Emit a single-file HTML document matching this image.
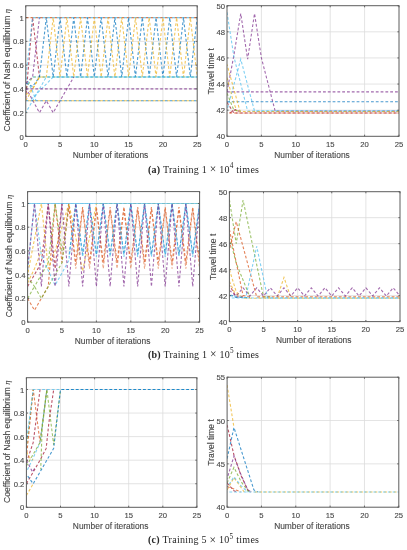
<!DOCTYPE html><html><head><meta charset="utf-8"><style>html,body{margin:0;padding:0;background:#fff;}svg{display:block;filter:blur(0.3px)}.t{font-family:"Liberation Sans",sans-serif;fill:#484848;stroke:#484848;stroke-width:0.12px;}.cap{font-family:"Liberation Serif",serif;fill:#262626;}</style></head><body>
<svg width="407" height="550" viewBox="0 0 407 550">
<rect width="407" height="550" fill="#fff"/>
<line x1="60.04" y1="5.75" x2="60.04" y2="136.40" stroke="#dcdcdc" stroke-width="0.8"/><line x1="94.33" y1="5.75" x2="94.33" y2="136.40" stroke="#dcdcdc" stroke-width="0.8"/><line x1="128.62" y1="5.75" x2="128.62" y2="136.40" stroke="#dcdcdc" stroke-width="0.8"/><line x1="162.91" y1="5.75" x2="162.91" y2="136.40" stroke="#dcdcdc" stroke-width="0.8"/><line x1="25.75" y1="112.65" x2="197.20" y2="112.65" stroke="#dcdcdc" stroke-width="0.8"/><line x1="25.75" y1="88.89" x2="197.20" y2="88.89" stroke="#dcdcdc" stroke-width="0.8"/><line x1="25.75" y1="65.14" x2="197.20" y2="65.14" stroke="#dcdcdc" stroke-width="0.8"/><line x1="25.75" y1="41.38" x2="197.20" y2="41.38" stroke="#dcdcdc" stroke-width="0.8"/><line x1="25.75" y1="17.63" x2="197.20" y2="17.63" stroke="#dcdcdc" stroke-width="0.8"/>
<clipPath id="clip0"><rect x="25.75" y="5.75" width="171.45" height="130.65"/></clipPath>
<g clip-path="url(#clip0)" fill="none" stroke-width="1.1" stroke-dasharray="2.8 2" stroke-opacity="0.72">
<polyline points="25.75,88.89 32.61,77.01 197.20,77.01" stroke="#77AC30"/>
<polyline points="32.61,77.01 197.20,77.01" stroke="#4DBEEE"/>
<polyline points="25.75,98.39 32.61,17.63 39.47,77.01" stroke="#A2142F"/>
<polyline points="25.75,82.95 32.61,77.01 39.47,17.63 42.89,17.63" stroke="#7E2F8E"/>
<polyline points="25.75,17.63 197.20,17.63" stroke="#D95319"/>
<polyline points="25.75,77.01 32.61,17.63 197.20,17.63" stroke="#4DBEEE" stroke-dashoffset="2.4"/>
<polyline points="25.75,82.95 32.61,86.52 39.47,77.01 46.32,17.63 53.18,77.01 60.04,17.63 66.90,77.01 73.76,17.63 80.61,77.01 87.47,17.63 94.33,77.01 101.19,17.63 108.05,77.01 114.90,17.63 121.76,77.01 128.62,17.63 135.48,77.01 142.34,17.63 149.19,77.01 156.05,17.63 162.91,77.01 169.77,17.63 176.63,77.01 183.48,17.63 190.34,77.01 197.20,17.63" stroke="#0072BD"/>
<polyline points="25.75,100.77 39.47,77.01 46.32,77.01 53.18,17.63 60.04,77.01 66.90,17.63 73.76,77.01 80.61,17.63 87.47,77.01 94.33,17.63 101.19,77.01 108.05,17.63 114.90,77.01 121.76,17.63 128.62,77.01 135.48,17.63 142.34,77.01 149.19,17.63 156.05,77.01 162.91,17.63 169.77,77.01 176.63,17.63 183.48,77.01 190.34,17.63 197.20,77.01" stroke="#EDB120"/>
<polyline points="25.75,112.65 46.32,77.01 197.20,77.01" stroke="#4DBEEE" stroke-dashoffset="1.3"/>
<polyline points="29.86,100.77 53.18,77.01 197.20,77.01" stroke="#4DBEEE" stroke-dashoffset="3.0"/>
<polyline points="25.75,77.01 32.61,91.27 36.04,100.77" stroke="#4DBEEE"/>
<polyline points="25.75,94.83 32.61,88.89 39.47,77.01" stroke="#EDB120"/>
<polyline points="25.75,88.89 197.20,88.89" stroke="#7E2F8E"/>
<polyline points="25.75,87.70 39.47,112.65 46.32,100.77 53.18,112.65 73.76,77.01" stroke="#7E2F8E"/>
<polyline points="25.75,100.77 197.20,100.77" stroke="#0072BD"/>
<polyline points="25.75,100.77 197.20,100.77" stroke="#EDB120" stroke-dashoffset="2.5"/>
</g>
<path d="M25.75,136.40v-1.6M25.75,5.75v1.6M60.04,136.40v-1.6M60.04,5.75v1.6M94.33,136.40v-1.6M94.33,5.75v1.6M128.62,136.40v-1.6M128.62,5.75v1.6M162.91,136.40v-1.6M162.91,5.75v1.6M197.20,136.40v-1.6M197.20,5.75v1.6M25.75,136.40h1.6M197.20,136.40h-1.6M25.75,112.65h1.6M197.20,112.65h-1.6M25.75,88.89h1.6M197.20,88.89h-1.6M25.75,65.14h1.6M197.20,65.14h-1.6M25.75,41.38h1.6M197.20,41.38h-1.6M25.75,17.63h1.6M197.20,17.63h-1.6" stroke="#444" stroke-width="0.8" fill="none"/>
<rect x="25.75" y="5.75" width="171.45" height="130.65" fill="none" stroke="#5c5c5c" stroke-width="1.0"/>
<text class="t" x="25.75" y="147.00" font-size="7.7" text-anchor="middle">0</text><text class="t" x="60.04" y="147.00" font-size="7.7" text-anchor="middle">5</text><text class="t" x="94.33" y="147.00" font-size="7.7" text-anchor="middle">10</text><text class="t" x="128.62" y="147.00" font-size="7.7" text-anchor="middle">15</text><text class="t" x="162.91" y="147.00" font-size="7.7" text-anchor="middle">20</text><text class="t" x="197.20" y="147.00" font-size="7.7" text-anchor="middle">25</text><text class="t" x="23.75" y="139.50" font-size="7.7" text-anchor="end">0</text><text class="t" x="23.75" y="115.75" font-size="7.7" text-anchor="end">0.2</text><text class="t" x="23.75" y="91.99" font-size="7.7" text-anchor="end">0.4</text><text class="t" x="23.75" y="68.24" font-size="7.7" text-anchor="end">0.6</text><text class="t" x="23.75" y="44.48" font-size="7.7" text-anchor="end">0.8</text><text class="t" x="23.75" y="20.73" font-size="7.7" text-anchor="end">1</text><text class="t" x="110.47" y="158.00" font-size="8.4" text-anchor="middle" textLength="75.6" lengthAdjust="spacingAndGlyphs">Number of iterations</text><text class="t" transform="translate(9.75,70.28) rotate(-90)" font-size="8.4" text-anchor="middle" textLength="122.5" lengthAdjust="spacingAndGlyphs">Coefficient of Nash equilibrium <tspan font-family="Liberation Serif, serif" font-style="italic">η</tspan></text>
<line x1="261.40" y1="5.70" x2="261.40" y2="136.30" stroke="#dcdcdc" stroke-width="0.8"/><line x1="295.80" y1="5.70" x2="295.80" y2="136.30" stroke="#dcdcdc" stroke-width="0.8"/><line x1="330.20" y1="5.70" x2="330.20" y2="136.30" stroke="#dcdcdc" stroke-width="0.8"/><line x1="364.60" y1="5.70" x2="364.60" y2="136.30" stroke="#dcdcdc" stroke-width="0.8"/><line x1="227.00" y1="110.18" x2="399.00" y2="110.18" stroke="#dcdcdc" stroke-width="0.8"/><line x1="227.00" y1="84.06" x2="399.00" y2="84.06" stroke="#dcdcdc" stroke-width="0.8"/><line x1="227.00" y1="57.94" x2="399.00" y2="57.94" stroke="#dcdcdc" stroke-width="0.8"/><line x1="227.00" y1="31.82" x2="399.00" y2="31.82" stroke="#dcdcdc" stroke-width="0.8"/>
<clipPath id="clip1"><rect x="227.0" y="5.7" width="172.0" height="130.60000000000002"/></clipPath>
<g clip-path="url(#clip1)" fill="none" stroke-width="1.1" stroke-dasharray="2.8 2" stroke-opacity="0.72">
<polyline points="227.00,91.90 399.00,91.90" stroke="#7E2F8E"/>
<polyline points="227.00,91.90 233.88,55.33 240.76,13.54 247.64,59.25 254.52,13.54 261.40,57.94 275.16,111.09 399.00,111.09" stroke="#7E2F8E"/>
<polyline points="227.00,12.23 233.88,56.63 247.64,111.09 399.00,111.09" stroke="#4DBEEE"/>
<polyline points="227.00,110.18 240.76,59.25 254.52,111.09 399.00,111.09" stroke="#4DBEEE" stroke-dashoffset="2.4"/>
<polyline points="227.00,101.69 399.00,101.69" stroke="#0072BD"/>
<polyline points="227.00,64.47 240.07,111.49 399.00,111.49" stroke="#EDB120" stroke-dashoffset="1.2"/>
<polyline points="227.00,77.53 233.88,103.65 237.32,111.49" stroke="#EDB120"/>
<polyline points="227.00,93.20 233.88,110.18 240.76,111.09" stroke="#77AC30"/>
<polyline points="227.00,102.34 233.88,113.05 399.00,113.05" stroke="#A2142F"/>
<polyline points="229.75,113.05 235.26,109.53 239.38,111.49" stroke="#A2142F"/>
<polyline points="227.00,113.05 399.00,113.05" stroke="#D95319" stroke-dashoffset="2.5"/>
</g>
<path d="M227.00,136.30v-1.6M227.00,5.70v1.6M261.40,136.30v-1.6M261.40,5.70v1.6M295.80,136.30v-1.6M295.80,5.70v1.6M330.20,136.30v-1.6M330.20,5.70v1.6M364.60,136.30v-1.6M364.60,5.70v1.6M399.00,136.30v-1.6M399.00,5.70v1.6M227.00,136.30h1.6M399.00,136.30h-1.6M227.00,110.18h1.6M399.00,110.18h-1.6M227.00,84.06h1.6M399.00,84.06h-1.6M227.00,57.94h1.6M399.00,57.94h-1.6M227.00,31.82h1.6M399.00,31.82h-1.6M227.00,5.70h1.6M399.00,5.70h-1.6" stroke="#444" stroke-width="0.8" fill="none"/>
<rect x="227.00" y="5.70" width="172.00" height="130.60" fill="none" stroke="#5c5c5c" stroke-width="1.0"/>
<text class="t" x="227.00" y="146.90" font-size="7.7" text-anchor="middle">0</text><text class="t" x="261.40" y="146.90" font-size="7.7" text-anchor="middle">5</text><text class="t" x="295.80" y="146.90" font-size="7.7" text-anchor="middle">10</text><text class="t" x="330.20" y="146.90" font-size="7.7" text-anchor="middle">15</text><text class="t" x="364.60" y="146.90" font-size="7.7" text-anchor="middle">20</text><text class="t" x="399.00" y="146.90" font-size="7.7" text-anchor="middle">25</text><text class="t" x="225.00" y="139.40" font-size="7.7" text-anchor="end">40</text><text class="t" x="225.00" y="113.28" font-size="7.7" text-anchor="end">42</text><text class="t" x="225.00" y="87.16" font-size="7.7" text-anchor="end">44</text><text class="t" x="225.00" y="61.04" font-size="7.7" text-anchor="end">46</text><text class="t" x="225.00" y="34.92" font-size="7.7" text-anchor="end">48</text><text class="t" x="225.00" y="8.80" font-size="7.7" text-anchor="end">50</text><text class="t" x="312.00" y="157.90" font-size="8.4" text-anchor="middle" textLength="75.6" lengthAdjust="spacingAndGlyphs">Number of iterations</text><text class="t" transform="translate(213.60,71.30) rotate(-90)" font-size="8.4" text-anchor="middle" textLength="46.5" lengthAdjust="spacingAndGlyphs">Travel time t</text>
<line x1="62.00" y1="191.60" x2="62.00" y2="322.10" stroke="#dcdcdc" stroke-width="0.8"/><line x1="96.40" y1="191.60" x2="96.40" y2="322.10" stroke="#dcdcdc" stroke-width="0.8"/><line x1="130.80" y1="191.60" x2="130.80" y2="322.10" stroke="#dcdcdc" stroke-width="0.8"/><line x1="165.20" y1="191.60" x2="165.20" y2="322.10" stroke="#dcdcdc" stroke-width="0.8"/><line x1="27.60" y1="298.37" x2="199.60" y2="298.37" stroke="#dcdcdc" stroke-width="0.8"/><line x1="27.60" y1="274.65" x2="199.60" y2="274.65" stroke="#dcdcdc" stroke-width="0.8"/><line x1="27.60" y1="250.92" x2="199.60" y2="250.92" stroke="#dcdcdc" stroke-width="0.8"/><line x1="27.60" y1="227.19" x2="199.60" y2="227.19" stroke="#dcdcdc" stroke-width="0.8"/><line x1="27.60" y1="203.46" x2="199.60" y2="203.46" stroke="#dcdcdc" stroke-width="0.8"/>
<clipPath id="clip2"><rect x="27.6" y="191.6" width="172.0" height="130.50000000000003"/></clipPath>
<g clip-path="url(#clip2)" fill="none" stroke-width="1.1" stroke-dasharray="2.8 2" stroke-opacity="0.72">
<polyline points="27.60,298.37 34.48,310.24 48.24,286.51 55.12,203.46 62.00,262.78 68.88,207.02 75.76,262.78 82.64,207.02 89.52,262.78 96.40,207.02 103.28,262.78 110.16,207.02 117.04,262.78 123.92,207.02 130.80,262.78 137.68,207.02 144.56,262.78 151.44,207.02 158.32,262.78 165.20,207.02 172.08,262.78 178.96,207.02 185.84,262.78 192.72,207.02 199.60,262.78" stroke="#D95319"/>
<polyline points="27.60,286.51 41.36,262.78 48.24,203.46 55.12,268.71 62.00,203.46" stroke="#A2142F"/>
<polyline points="27.60,298.37 34.48,286.51 41.36,298.37 48.24,286.51 62.00,262.78 68.88,203.46" stroke="#77AC30"/>
<polyline points="27.60,277.02 34.48,286.51 48.24,262.78 55.12,203.46 62.00,250.92" stroke="#77AC30"/>
<polyline points="27.60,274.65 41.36,203.46 48.24,268.71 55.12,250.92 68.88,203.46 82.64,271.09 96.40,203.46 199.60,203.46" stroke="#EDB120" stroke-dashoffset="2.4"/>
<polyline points="27.60,282.95 34.48,268.71 41.36,250.92" stroke="#EDB120"/>
<polyline points="68.88,256.85 75.76,203.46 82.64,254.48 89.52,203.46 96.40,254.48 103.28,203.46 110.16,254.48 117.04,203.46 123.92,254.48 130.80,203.46 137.68,254.48 144.56,203.46 151.44,254.48 158.32,203.46 165.20,254.48 172.08,203.46 178.96,254.48 185.84,203.46 192.72,254.48 199.60,203.46" stroke="#0072BD" stroke-dashoffset="2.4"/>
<polyline points="62.00,250.92 68.88,203.46 75.76,268.71 82.64,209.40 89.52,268.71 96.40,209.40 103.28,268.71 110.16,209.40 117.04,268.71 123.92,209.40 130.80,268.71 137.68,209.40 144.56,268.71 151.44,209.40 158.32,268.71 165.20,209.40 172.08,268.71 178.96,209.40 185.84,268.71 192.72,209.40 199.60,268.71" stroke="#D95319" stroke-dashoffset="2.4" stroke-opacity="0.5"/>
<polyline points="27.60,269.90 34.48,203.46 41.36,255.66 55.12,285.32 68.88,260.41 75.76,203.46 82.64,256.85 89.52,203.46 96.40,256.85 103.28,203.46 110.16,256.85 117.04,203.46 123.92,256.85 130.80,203.46 137.68,256.85 144.56,203.46 151.44,256.85 158.32,203.46 165.20,256.85 172.08,203.46 178.96,256.85 185.84,203.46 192.72,256.85 199.60,203.46" stroke="#4DBEEE"/>
<polyline points="27.60,268.71 34.48,203.46 41.36,286.51 48.24,203.46 55.12,286.51 62.00,203.46 68.88,286.51 75.76,203.46 82.64,286.51 89.52,203.46 96.40,286.51 103.28,203.46 110.16,286.51 117.04,203.46 123.92,286.51 130.80,203.46 137.68,286.51 144.56,203.46 151.44,286.51 158.32,203.46 165.20,286.51 172.08,203.46 178.96,286.51 185.84,203.46 192.72,286.51 199.60,203.46" stroke="#7E2F8E"/>
<polyline points="27.60,203.46 199.60,203.46" stroke="#4DBEEE"/>
<polyline points="27.60,203.46 199.60,203.46" stroke="#4DBEEE" stroke-dashoffset="2.4" stroke-opacity="0.6"/>
</g>
<path d="M27.60,322.10v-1.6M27.60,191.60v1.6M62.00,322.10v-1.6M62.00,191.60v1.6M96.40,322.10v-1.6M96.40,191.60v1.6M130.80,322.10v-1.6M130.80,191.60v1.6M165.20,322.10v-1.6M165.20,191.60v1.6M199.60,322.10v-1.6M199.60,191.60v1.6M27.60,322.10h1.6M199.60,322.10h-1.6M27.60,298.37h1.6M199.60,298.37h-1.6M27.60,274.65h1.6M199.60,274.65h-1.6M27.60,250.92h1.6M199.60,250.92h-1.6M27.60,227.19h1.6M199.60,227.19h-1.6M27.60,203.46h1.6M199.60,203.46h-1.6" stroke="#444" stroke-width="0.8" fill="none"/>
<rect x="27.60" y="191.60" width="172.00" height="130.50" fill="none" stroke="#5c5c5c" stroke-width="1.0"/>
<text class="t" x="27.60" y="332.70" font-size="7.7" text-anchor="middle">0</text><text class="t" x="62.00" y="332.70" font-size="7.7" text-anchor="middle">5</text><text class="t" x="96.40" y="332.70" font-size="7.7" text-anchor="middle">10</text><text class="t" x="130.80" y="332.70" font-size="7.7" text-anchor="middle">15</text><text class="t" x="165.20" y="332.70" font-size="7.7" text-anchor="middle">20</text><text class="t" x="199.60" y="332.70" font-size="7.7" text-anchor="middle">25</text><text class="t" x="25.60" y="325.20" font-size="7.7" text-anchor="end">0</text><text class="t" x="25.60" y="301.47" font-size="7.7" text-anchor="end">0.2</text><text class="t" x="25.60" y="277.75" font-size="7.7" text-anchor="end">0.4</text><text class="t" x="25.60" y="254.02" font-size="7.7" text-anchor="end">0.6</text><text class="t" x="25.60" y="230.29" font-size="7.7" text-anchor="end">0.8</text><text class="t" x="25.60" y="206.56" font-size="7.7" text-anchor="end">1</text><text class="t" x="112.60" y="343.70" font-size="8.4" text-anchor="middle" textLength="75.6" lengthAdjust="spacingAndGlyphs">Number of iterations</text><text class="t" transform="translate(11.60,256.05) rotate(-90)" font-size="8.4" text-anchor="middle" textLength="122.5" lengthAdjust="spacingAndGlyphs">Coefficient of Nash equilibrium <tspan font-family="Liberation Serif, serif" font-style="italic">η</tspan></text>
<line x1="263.52" y1="191.70" x2="263.52" y2="321.60" stroke="#dcdcdc" stroke-width="0.8"/><line x1="297.64" y1="191.70" x2="297.64" y2="321.60" stroke="#dcdcdc" stroke-width="0.8"/><line x1="331.76" y1="191.70" x2="331.76" y2="321.60" stroke="#dcdcdc" stroke-width="0.8"/><line x1="365.88" y1="191.70" x2="365.88" y2="321.60" stroke="#dcdcdc" stroke-width="0.8"/><line x1="229.40" y1="295.62" x2="400.00" y2="295.62" stroke="#dcdcdc" stroke-width="0.8"/><line x1="229.40" y1="269.64" x2="400.00" y2="269.64" stroke="#dcdcdc" stroke-width="0.8"/><line x1="229.40" y1="243.66" x2="400.00" y2="243.66" stroke="#dcdcdc" stroke-width="0.8"/><line x1="229.40" y1="217.68" x2="400.00" y2="217.68" stroke="#dcdcdc" stroke-width="0.8"/>
<clipPath id="clip3"><rect x="229.4" y="191.7" width="170.6" height="129.90000000000003"/></clipPath>
<g clip-path="url(#clip3)" fill="none" stroke-width="1.1" stroke-dasharray="2.8 2" stroke-opacity="0.72">
<polyline points="229.40,199.49 236.22,243.66 243.05,200.14 263.52,296.92 270.34,296.92" stroke="#77AC30"/>
<polyline points="229.40,237.16 236.22,263.14 249.87,296.92" stroke="#77AC30"/>
<polyline points="229.40,250.16 236.22,221.58 256.70,296.92 400.00,296.92" stroke="#D95319" stroke-dashoffset="2.4"/>
<polyline points="229.40,229.37 243.05,295.62 249.87,296.92" stroke="#D95319"/>
<polyline points="229.40,269.64 236.22,291.72 243.05,298.22 400.00,298.22" stroke="#EDB120"/>
<polyline points="229.40,281.33 234.18,291.72 239.64,296.92" stroke="#EDB120"/>
<polyline points="277.17,297.57 283.99,277.43 290.82,297.57" stroke="#EDB120"/>
<polyline points="229.40,285.23 236.22,296.92 243.05,296.92" stroke="#A2142F" stroke-dashoffset="1.2"/>
<polyline points="229.40,294.32 236.22,297.57 249.87,297.57" stroke="#0072BD" stroke-dashoffset="3.5"/>
<polyline points="229.40,295.62 245.78,297.57 256.70,246.26 267.61,297.96 400.00,297.96" stroke="#4DBEEE"/>
<polyline points="229.40,297.96 400.00,297.96" stroke="#4DBEEE" stroke-dashoffset="2.4"/>
<polyline points="229.40,290.42 236.22,296.01 243.05,287.83 249.87,296.01 256.70,287.83 263.52,296.01 270.34,287.83 277.17,296.01 283.99,287.83 290.82,296.01 297.64,287.83 304.46,296.01 311.29,287.83 318.11,296.01 324.94,287.83 331.76,296.01 338.58,287.83 345.41,296.01 352.23,287.83 359.06,296.01 365.88,287.83 372.70,296.01 379.53,287.83 386.35,296.01 393.18,287.83 400.00,296.01" stroke="#7E2F8E"/>
</g>
<path d="M229.40,321.60v-1.6M229.40,191.70v1.6M263.52,321.60v-1.6M263.52,191.70v1.6M297.64,321.60v-1.6M297.64,191.70v1.6M331.76,321.60v-1.6M331.76,191.70v1.6M365.88,321.60v-1.6M365.88,191.70v1.6M400.00,321.60v-1.6M400.00,191.70v1.6M229.40,321.60h1.6M400.00,321.60h-1.6M229.40,295.62h1.6M400.00,295.62h-1.6M229.40,269.64h1.6M400.00,269.64h-1.6M229.40,243.66h1.6M400.00,243.66h-1.6M229.40,217.68h1.6M400.00,217.68h-1.6M229.40,191.70h1.6M400.00,191.70h-1.6" stroke="#444" stroke-width="0.8" fill="none"/>
<rect x="229.40" y="191.70" width="170.60" height="129.90" fill="none" stroke="#5c5c5c" stroke-width="1.0"/>
<text class="t" x="229.40" y="332.20" font-size="7.7" text-anchor="middle">0</text><text class="t" x="263.52" y="332.20" font-size="7.7" text-anchor="middle">5</text><text class="t" x="297.64" y="332.20" font-size="7.7" text-anchor="middle">10</text><text class="t" x="331.76" y="332.20" font-size="7.7" text-anchor="middle">15</text><text class="t" x="365.88" y="332.20" font-size="7.7" text-anchor="middle">20</text><text class="t" x="400.00" y="332.20" font-size="7.7" text-anchor="middle">25</text><text class="t" x="227.40" y="324.70" font-size="7.7" text-anchor="end">40</text><text class="t" x="227.40" y="298.72" font-size="7.7" text-anchor="end">42</text><text class="t" x="227.40" y="272.74" font-size="7.7" text-anchor="end">44</text><text class="t" x="227.40" y="246.76" font-size="7.7" text-anchor="end">46</text><text class="t" x="227.40" y="220.78" font-size="7.7" text-anchor="end">48</text><text class="t" x="227.40" y="194.80" font-size="7.7" text-anchor="end">50</text><text class="t" x="313.70" y="343.20" font-size="8.4" text-anchor="middle" textLength="75.6" lengthAdjust="spacingAndGlyphs">Number of iterations</text><text class="t" transform="translate(216.00,256.95) rotate(-90)" font-size="8.4" text-anchor="middle" textLength="46.5" lengthAdjust="spacingAndGlyphs">Travel time t</text>
<line x1="60.50" y1="377.70" x2="60.50" y2="507.30" stroke="#dcdcdc" stroke-width="0.8"/><line x1="94.60" y1="377.70" x2="94.60" y2="507.30" stroke="#dcdcdc" stroke-width="0.8"/><line x1="128.70" y1="377.70" x2="128.70" y2="507.30" stroke="#dcdcdc" stroke-width="0.8"/><line x1="162.80" y1="377.70" x2="162.80" y2="507.30" stroke="#dcdcdc" stroke-width="0.8"/><line x1="26.40" y1="483.74" x2="196.90" y2="483.74" stroke="#dcdcdc" stroke-width="0.8"/><line x1="26.40" y1="460.17" x2="196.90" y2="460.17" stroke="#dcdcdc" stroke-width="0.8"/><line x1="26.40" y1="436.61" x2="196.90" y2="436.61" stroke="#dcdcdc" stroke-width="0.8"/><line x1="26.40" y1="413.05" x2="196.90" y2="413.05" stroke="#dcdcdc" stroke-width="0.8"/><line x1="26.40" y1="389.48" x2="196.90" y2="389.48" stroke="#dcdcdc" stroke-width="0.8"/>
<clipPath id="clip4"><rect x="26.4" y="377.7" width="170.5" height="129.60000000000002"/></clipPath>
<g clip-path="url(#clip4)" fill="none" stroke-width="1.1" stroke-dasharray="2.8 2" stroke-opacity="0.72">
<polyline points="26.40,448.39 33.22,389.48" stroke="#77AC30"/>
<polyline points="26.40,457.82 33.22,389.48 40.04,442.50 46.86,389.48" stroke="#D95319"/>
<polyline points="26.40,462.53 33.22,442.50 40.04,389.48" stroke="#A2142F"/>
<polyline points="26.40,471.95 33.22,457.82 40.04,442.50 46.86,389.48" stroke="#4DBEEE" stroke-dashoffset="2.4"/>
<polyline points="26.40,466.06 33.22,454.28 40.04,442.50 46.86,389.48 53.68,444.86 60.50,389.48" stroke="#77AC30"/>
<polyline points="26.40,483.74 33.22,471.95 40.04,460.17 46.18,448.39 48.91,422.47 53.68,389.48" stroke="#A2142F"/>
<polyline points="26.40,460.17 32.54,471.95 35.27,467.24" stroke="#7E2F8E"/>
<polyline points="40.72,469.60 42.09,429.54 46.86,389.48" stroke="#77AC30" stroke-dashoffset="1.0"/>
<polyline points="26.40,495.52 33.22,483.74" stroke="#EDB120"/>
<polyline points="26.40,451.93 29.81,457.82 33.22,460.17" stroke="#EDB120"/>
<polyline points="26.40,442.50 33.22,389.48 196.90,389.48" stroke="#4DBEEE"/>
<polyline points="26.40,474.31 33.22,483.74 53.68,448.39 60.50,389.48 196.90,389.48" stroke="#0072BD" stroke-dashoffset="2.5"/>
</g>
<path d="M26.40,507.30v-1.6M26.40,377.70v1.6M60.50,507.30v-1.6M60.50,377.70v1.6M94.60,507.30v-1.6M94.60,377.70v1.6M128.70,507.30v-1.6M128.70,377.70v1.6M162.80,507.30v-1.6M162.80,377.70v1.6M196.90,507.30v-1.6M196.90,377.70v1.6M26.40,507.30h1.6M196.90,507.30h-1.6M26.40,483.74h1.6M196.90,483.74h-1.6M26.40,460.17h1.6M196.90,460.17h-1.6M26.40,436.61h1.6M196.90,436.61h-1.6M26.40,413.05h1.6M196.90,413.05h-1.6M26.40,389.48h1.6M196.90,389.48h-1.6" stroke="#444" stroke-width="0.8" fill="none"/>
<rect x="26.40" y="377.70" width="170.50" height="129.60" fill="none" stroke="#5c5c5c" stroke-width="1.0"/>
<text class="t" x="26.40" y="517.90" font-size="7.7" text-anchor="middle">0</text><text class="t" x="60.50" y="517.90" font-size="7.7" text-anchor="middle">5</text><text class="t" x="94.60" y="517.90" font-size="7.7" text-anchor="middle">10</text><text class="t" x="128.70" y="517.90" font-size="7.7" text-anchor="middle">15</text><text class="t" x="162.80" y="517.90" font-size="7.7" text-anchor="middle">20</text><text class="t" x="196.90" y="517.90" font-size="7.7" text-anchor="middle">25</text><text class="t" x="24.40" y="510.40" font-size="7.7" text-anchor="end">0</text><text class="t" x="24.40" y="486.84" font-size="7.7" text-anchor="end">0.2</text><text class="t" x="24.40" y="463.27" font-size="7.7" text-anchor="end">0.4</text><text class="t" x="24.40" y="439.71" font-size="7.7" text-anchor="end">0.6</text><text class="t" x="24.40" y="416.15" font-size="7.7" text-anchor="end">0.8</text><text class="t" x="24.40" y="392.58" font-size="7.7" text-anchor="end">1</text><text class="t" x="110.65" y="528.90" font-size="8.4" text-anchor="middle" textLength="75.6" lengthAdjust="spacingAndGlyphs">Number of iterations</text><text class="t" transform="translate(10.40,441.70) rotate(-90)" font-size="8.4" text-anchor="middle" textLength="122.5" lengthAdjust="spacingAndGlyphs">Coefficient of Nash equilibrium <tspan font-family="Liberation Serif, serif" font-style="italic">η</tspan></text>
<line x1="261.44" y1="377.20" x2="261.44" y2="507.20" stroke="#dcdcdc" stroke-width="0.8"/><line x1="295.78" y1="377.20" x2="295.78" y2="507.20" stroke="#dcdcdc" stroke-width="0.8"/><line x1="330.12" y1="377.20" x2="330.12" y2="507.20" stroke="#dcdcdc" stroke-width="0.8"/><line x1="364.46" y1="377.20" x2="364.46" y2="507.20" stroke="#dcdcdc" stroke-width="0.8"/><line x1="227.10" y1="463.87" x2="398.80" y2="463.87" stroke="#dcdcdc" stroke-width="0.8"/><line x1="227.10" y1="420.53" x2="398.80" y2="420.53" stroke="#dcdcdc" stroke-width="0.8"/>
<clipPath id="clip5"><rect x="227.1" y="377.2" width="171.70000000000002" height="130.0"/></clipPath>
<g clip-path="url(#clip5)" fill="none" stroke-width="1.1" stroke-dasharray="2.8 2" stroke-opacity="0.72">
<polyline points="227.10,385.00 233.97,427.47" stroke="#EDB120"/>
<polyline points="227.10,458.67 233.97,427.47 253.89,489.87 258.01,492.03" stroke="#0072BD"/>
<polyline points="227.10,424.87 233.97,455.20 240.84,475.13 247.70,489.87 251.14,492.03" stroke="#A2142F"/>
<polyline points="227.10,478.60 233.97,456.07 240.84,474.27 247.70,489.87 251.14,492.03" stroke="#7E2F8E" stroke-dashoffset="2.0"/>
<polyline points="227.10,482.93 233.97,467.33 240.84,481.20 247.70,490.73 249.76,492.03" stroke="#77AC30"/>
<polyline points="227.10,489.87 233.97,477.73 240.84,487.27 244.27,492.03" stroke="#EDB120"/>
<polyline points="227.10,487.27 233.97,476.87 240.84,485.53 247.70,492.03" stroke="#4DBEEE" stroke-dashoffset="1.2"/>
<polyline points="227.10,482.93 233.97,490.73 237.40,492.03" stroke="#A2142F"/>
<polyline points="227.10,486.40 233.97,489.00 240.84,492.03" stroke="#D95319"/>
<polyline points="254.57,492.03 398.80,492.03" stroke="#EDB120"/>
<polyline points="227.10,492.03 398.80,492.03" stroke="#4DBEEE" stroke-dashoffset="2.5"/>
</g>
<path d="M227.10,507.20v-1.6M227.10,377.20v1.6M261.44,507.20v-1.6M261.44,377.20v1.6M295.78,507.20v-1.6M295.78,377.20v1.6M330.12,507.20v-1.6M330.12,377.20v1.6M364.46,507.20v-1.6M364.46,377.20v1.6M398.80,507.20v-1.6M398.80,377.20v1.6M227.10,507.20h1.6M398.80,507.20h-1.6M227.10,463.87h1.6M398.80,463.87h-1.6M227.10,420.53h1.6M398.80,420.53h-1.6M227.10,377.20h1.6M398.80,377.20h-1.6" stroke="#444" stroke-width="0.8" fill="none"/>
<rect x="227.10" y="377.20" width="171.70" height="130.00" fill="none" stroke="#5c5c5c" stroke-width="1.0"/>
<text class="t" x="227.10" y="517.80" font-size="7.7" text-anchor="middle">0</text><text class="t" x="261.44" y="517.80" font-size="7.7" text-anchor="middle">5</text><text class="t" x="295.78" y="517.80" font-size="7.7" text-anchor="middle">10</text><text class="t" x="330.12" y="517.80" font-size="7.7" text-anchor="middle">15</text><text class="t" x="364.46" y="517.80" font-size="7.7" text-anchor="middle">20</text><text class="t" x="398.80" y="517.80" font-size="7.7" text-anchor="middle">25</text><text class="t" x="225.10" y="510.30" font-size="7.7" text-anchor="end">40</text><text class="t" x="225.10" y="466.97" font-size="7.7" text-anchor="end">45</text><text class="t" x="225.10" y="423.63" font-size="7.7" text-anchor="end">50</text><text class="t" x="225.10" y="380.30" font-size="7.7" text-anchor="end">55</text><text class="t" x="311.95" y="528.80" font-size="8.4" text-anchor="middle" textLength="75.6" lengthAdjust="spacingAndGlyphs">Number of iterations</text><text class="t" transform="translate(213.70,442.50) rotate(-90)" font-size="8.4" text-anchor="middle" textLength="46.5" lengthAdjust="spacingAndGlyphs">Travel time t</text>
<text class="cap" x="148.0" y="172.6" font-size="10" textLength="111" lengthAdjust="spacing"><tspan font-weight="bold">(a)</tspan> Training 1 <tspan font-size="11.5" dy="0.5">×</tspan><tspan dy="-0.5"> 10</tspan><tspan font-size="7.2" dy="-4.3">4</tspan><tspan dy="4.3"> times</tspan></text>
<text class="cap" x="148.0" y="357.6" font-size="10" textLength="111" lengthAdjust="spacing"><tspan font-weight="bold">(b)</tspan> Training 1 <tspan font-size="11.5" dy="0.5">×</tspan><tspan dy="-0.5"> 10</tspan><tspan font-size="7.2" dy="-4.3">5</tspan><tspan dy="4.3"> times</tspan></text>
<text class="cap" x="148.0" y="543.0" font-size="10" textLength="111" lengthAdjust="spacing"><tspan font-weight="bold">(c)</tspan> Training 5 <tspan font-size="11.5" dy="0.5">×</tspan><tspan dy="-0.5"> 10</tspan><tspan font-size="7.2" dy="-4.3">5</tspan><tspan dy="4.3"> times</tspan></text>
</svg></body></html>
